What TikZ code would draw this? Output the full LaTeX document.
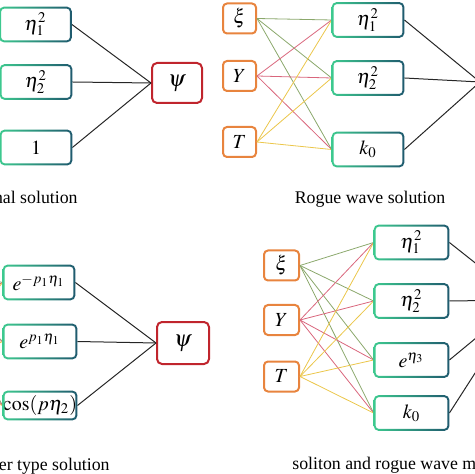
\documentclass[tikz,border=0pt]{standalone}
\usepackage{mathptmx}
\usepackage{fontspec}
\setmainfont{Liberation Serif}
\usetikzlibrary{arrows.meta}

\definecolor{gleft}{HTML}{3DC98F}
\definecolor{gright}{HTML}{1F5A6E}
\definecolor{obord}{HTML}{E8843E}
\definecolor{rbord}{HTML}{C0252D}
\definecolor{xicol}{HTML}{8BA86C}
\definecolor{ycol}{HTML}{D9667C}
\definecolor{tcol}{HTML}{EBC64A}

\tikzset{
  gbox/.style={rounded corners=2pt, minimum width=36pt, minimum height=17.5pt, inner sep=0pt, font=\fontsize{10}{12}\selectfont},
  obox/.style={draw=obord, line width=1pt, rounded corners=2pt, minimum width=16.5pt, minimum height=15pt, inner sep=0pt, fill=white, font=\fontsize{10}{12}\selectfont},
  psibox/.style={draw=rbord, line width=1pt, rounded corners=2.5pt, minimum width=25pt, minimum height=20pt, inner sep=0pt, font=\fontsize{11.5}{13}\selectfont},
  caption/.style={inner sep=0pt, font=\fontsize{8.9}{10}\selectfont},
  wire/.style={draw=black!85, line width=0.5pt},
  cwire/.style={line width=0.4pt}
}

% gradient frame round a node
\newcommand{\gradframe}[1]{%
  \shade[left color=gleft, right color=gright, even odd rule, rounded corners=2.5pt]
    (#1.south west) rectangle (#1.north east)
    [rounded corners=1.6pt] ([shift={(1pt,1pt)}]#1.south west) rectangle ([shift={(-1pt,-1pt)}]#1.north east);}

\begin{document}
\begin{tikzpicture}[x=0.5pt, y=-0.5pt]
\useasboundingbox (0,0) rectangle (474,474);

% traditional solution
\node[gbox] (a1) at (35.5,24.5) {$\eta_1^2$};
\node[gbox] (a2) at (36,82) {$\eta_2^2$};
\node[gbox] (a3) at (36,147.5) {$1$};
\node[psibox] (psiA) at (177,83) {$\psi$};
\node[caption, anchor=base east] (capA) at (78,204) {nal solution};

% rogue wave solution
\node[obox] (xiB) at (239.5,18.5) {$\xi$};
\node[obox] (yB) at (239.5,76) {$Y$};
\node[obox] (tB) at (239.5,142) {$T$};
\node[gbox] (b1) at (368,20) {$\eta_1^2$};
\node[gbox] (b2) at (368,78) {$\eta_2^2$};
\node[gbox] (b3) at (368,149.5) {$k_0$};
\coordinate (psiB) at (480,82);
\node[caption, anchor=base] (capB) at (370,204) {Rogue wave solution};

% breather type solution
\coordinate (xiC) at (-72,265);
\coordinate (yC) at (-72,320);
\coordinate (tC) at (-72,376);
\node[gbox] (c1) at (39,282.5) {$e^{-p_1\eta_1}$};
\node[gbox, minimum width=37pt] (c2) at (40,341.5) {$e^{p_1\eta_1}$};
\node[gbox, minimum width=37pt, minimum height=14.5pt] (c3) at (40,405.5) {$\cos(p\eta_2)$};
\node[psibox, minimum width=26pt, minimum height=21pt] (psiC) at (183,343) {$\psi$};
\node[caption, anchor=base east] (capC) at (110,470) {er type solution};

% soliton and rogue wave mixed solution
\node[obox, minimum width=17.5pt] (xiD) at (281.5,265.5) {$\xi$};
\node[obox, minimum width=17.5pt] (yD) at (281.5,320) {$Y$};
\node[obox, minimum width=17.5pt] (tD) at (281.5,376.5) {$T$};
\node[gbox, minimum width=37.5pt] (d1) at (411.5,242.5) {$\eta_1^2$};
\node[gbox, minimum width=37.5pt] (d2) at (411.5,301) {$\eta_2^2$};
\node[gbox, minimum width=37.5pt] (d3) at (411.5,360) {$e^{\eta_3}$};
\node[gbox, minimum width=37.5pt] (d4) at (411.5,413) {$k_0$};
\coordinate (psiD) at (522,300);
\node[caption, anchor=base west] (capD) at (292,469) {soliton and rogue wave m};

% input wires
\foreach \s/\c in {xiB/xicol, yB/ycol, tB/tcol} {
  \foreach \t in {b1,b2,b3} \draw[cwire, draw=\c] (\s.east) -- (\t.west);
}
\foreach \s/\c in {xiC/xicol, yC/ycol, tC/tcol} {
  \foreach \t in {c1,c2,c3} \draw[cwire, draw=\c] (\s) -- (\t.west);
}
\foreach \s/\c in {xiD/xicol, yD/ycol, tD/tcol} {
  \foreach \t in {d1,d2,d3,d4} \draw[cwire, draw=\c] (\s.east) -- (\t.west);
}

% output wires
\foreach \n in {a1,a2,a3} \draw[wire] (\n.east) -- (psiA.west);
\foreach \n in {b1,b2,b3} \draw[wire] (\n.east) -- (psiB);
\foreach \n in {c1,c2,c3} \draw[wire] (\n.east) -- (psiC.west);
\foreach \n in {d1,d2,d3,d4} \draw[wire] (\n.east) -- (psiD);

\foreach \n in {a1,a2,a3,b1,b2,b3,c1,c2,c3,d1,d2,d3,d4} \gradframe{\n};
\end{tikzpicture}
\end{document}
